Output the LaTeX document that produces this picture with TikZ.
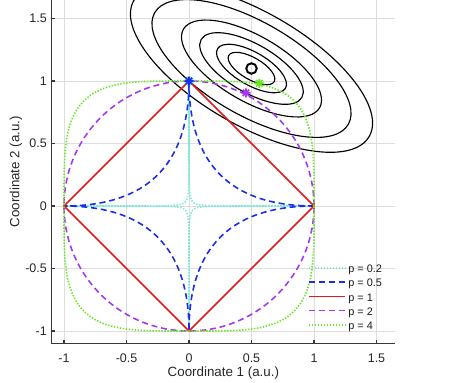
\documentclass[tikz,border=0pt]{standalone}
\usepackage{fontspec}
\setmainfont{Liberation Sans}
\usetikzlibrary{positioning}

\definecolor{pcyan}{RGB}{125,232,215}
\definecolor{pblue}{RGB}{25,45,235}
\definecolor{pred}{RGB}{232,25,25}
\definecolor{ppurple}{RGB}{165,55,240}
\definecolor{pgreen}{RGB}{105,230,35}
\definecolor{axgray}{RGB}{55,55,55}

% asterisk marker
\newcommand{\astmark}[2][]{%
  \draw[#1] (#2) +(-0.036,0) -- +(0.036,0) +(0,-0.036) -- +(0,0.036)
    +(-0.026,-0.026) -- +(0.026,0.026) +(-0.026,0.026) -- +(0.026,-0.026);}

\begin{document}
\begin{tikzpicture}[
  x=2.5cm, y=2.5cm,
  gridline/.style={draw=black!13, line width=0.5pt},
  axisline/.style={draw=axgray, line width=0.8pt},
  ticklbl/.style={font=\fontsize{7.1}{8}\selectfont, text=black!85, inner sep=0pt},
  axislbl/.style={font=\fontsize{7.6}{9}\selectfont, text=black!85, inner sep=0pt},
  leglbl/.style={font=\fontsize{6.2}{7}\selectfont, text=black!90, inner sep=0pt},
  contour/.style={draw=black, line width=0.65pt},
  norm02/.style={draw=pcyan, line width=0.9pt, dash pattern=on 0.8pt off 0.9pt},
  norm05/.style={draw=pblue, line width=0.9pt, dash pattern=on 3.4pt off 2.2pt},
  norm1/.style={draw=pred, line width=0.9pt},
  norm2/.style={draw=ppurple, line width=0.9pt, dash pattern=on 3.4pt off 2.2pt},
  norm4/.style={draw=pgreen, line width=0.9pt, dash pattern=on 0.8pt off 0.9pt}
]
\useasboundingbox (-1.512,-1.408) rectangle (2.28,1.648);

\coordinate (axTL) at (-1.1,1.65);
\coordinate (axBL) at (-1.1,-1.1);
\coordinate (axBR) at (1.65,-1.1);
\coordinate (ctr) at (0.5,1.1);
\coordinate (sol1) at (0,1);
\coordinate (sol2) at (0.456,0.906);
\coordinate (sol4) at (0.562,0.982);

% grid
\foreach \v in {-1,-0.5,0,0.5,1,1.5} {
  \draw[gridline] (\v,-1.1) -- (\v,1.65);
  \draw[gridline] (-1.1,\v) -- (1.65,\v);
}

% loss contours
\begin{scope}
  \clip (axBL) rectangle (1.65,1.65);
  \foreach \b in {0.0875,0.131,0.1937,0.262,0.3725,0.453}
    \draw[contour, rotate around={-30:(ctr)}] (ctr) ellipse [x radius={6cm*\b}, y radius={2.5cm*\b}];
\end{scope}

% unit balls
\draw[norm02] plot[domain=0:360, samples=721]
  ({sign(cos(\x))*abs(cos(\x))^10}, {sign(sin(\x))*abs(sin(\x))^10});
\draw[norm05] plot[domain=0:360, samples=721]
  ({sign(cos(\x))*abs(cos(\x))^4}, {sign(sin(\x))*abs(sin(\x))^4});
\draw[norm1] (1,0) -- (0,1) -- (-1,0) -- (0,-1) -- cycle;
\draw[norm2] (0,0) circle [radius=2.5cm];
\draw[norm4] plot[domain=0:360, samples=721]
  ({sign(cos(\x))*sqrt(abs(cos(\x)))}, {sign(sin(\x))*sqrt(abs(sin(\x)))});

% minimum and solutions
\draw[black, line width=1.1pt] (ctr) circle [radius=0.105cm];
\astmark[pcyan, line width=2.4pt]{sol1}
\astmark[pblue, line width=0.9pt]{sol1}
\astmark[ppurple, line width=0.9pt]{sol2}
\astmark[pgreen, line width=0.9pt]{sol4}

% axes
\draw[axisline] (axTL) -- (axBL) -- (axBR);
\foreach \v [count=\i] in {-1,-0.5,0,0.5,1,1.5} {
  \draw[axisline] (\v,-1.1) -- ++(0,0.025);
  \draw[axisline] (-1.1,\v) -- ++(0.025,0);
  \node[ticklbl, anchor=base] (xtick\i) at (\v,-1.248) {\v};
  \node[ticklbl, anchor=east] (ytick\i) at (-1.135,\v) {\v};
}
\node[axislbl, anchor=base] (xlab) at (0.275,-1.36) {Coordinate 1 (a.u.)};
\node[axislbl, rotate=90] (ylab) at (-1.384,0.275) {Coordinate 2 (a.u.)};

% legend
\foreach \p/\sty [count=\i] in {0.2/norm02, 0.5/norm05, 1/norm1, 2/norm2, 4/norm4} {
  \coordinate (legA\i) at (0.96,{-0.494-0.1145*(\i-1)});
  \coordinate (legB\i) at (1.248,{-0.494-0.1145*(\i-1)});
  \draw[\sty] (legA\i) -- (legB\i);
  \node[leglbl, right=0.06cm of legB\i, anchor=mid west] (legtxt\i) {p = \p};
}

\end{tikzpicture}
\end{document}
